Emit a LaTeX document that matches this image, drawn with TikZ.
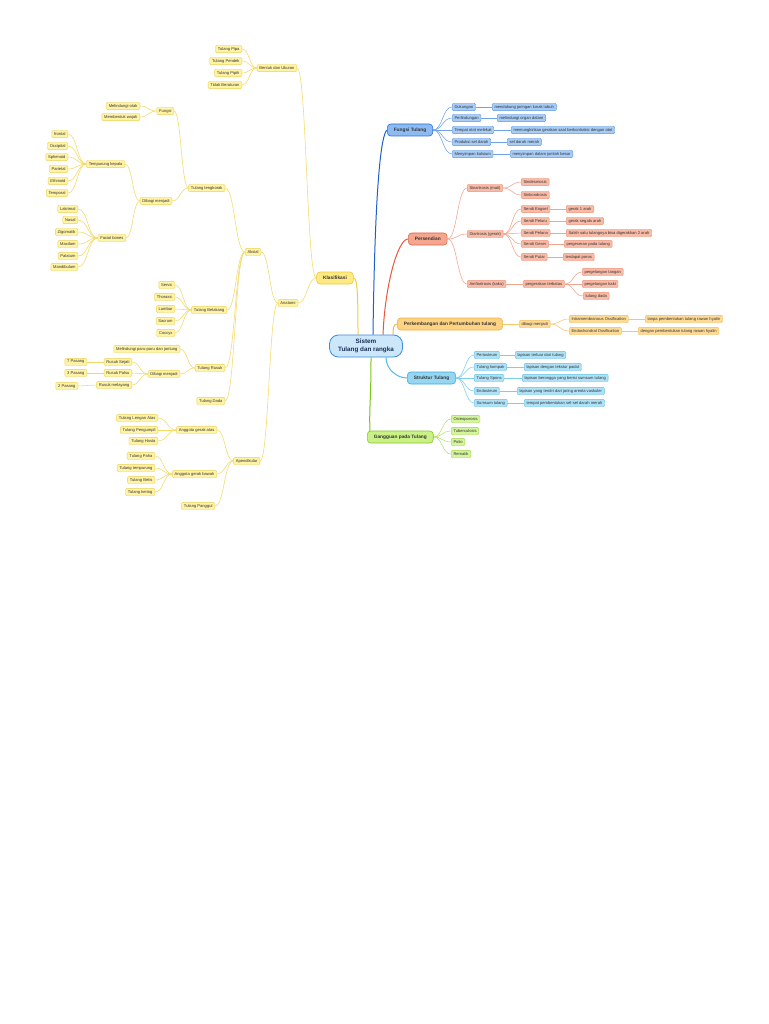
\documentclass[tikz,border=0pt]{standalone}
\usepackage{fontspec}
\setmainfont{Liberation Sans}
\usetikzlibrary{calc,backgrounds}
\definecolor{ylF}{HTML}{FFF3A6}\definecolor{ylD}{HTML}{EDD25A}\definecolor{ylL}{HTML}{F3D966}
\definecolor{ylMF}{HTML}{FFE983}\definecolor{ylMD}{HTML}{EFC93C}\definecolor{ylML}{HTML}{F0CF45}
\definecolor{buF}{HTML}{A8CCF5}\definecolor{buD}{HTML}{5D97E3}\definecolor{buL}{HTML}{6FA3E8}
\definecolor{buMF}{HTML}{8CBBF3}\definecolor{buMD}{HTML}{2F6FD0}\definecolor{buML}{HTML}{1F5FC8}
\definecolor{rdF}{HTML}{F8BBA8}\definecolor{rdD}{HTML}{EE9378}\definecolor{rdL}{HTML}{F2A48D}
\definecolor{rdMF}{HTML}{F4A68F}\definecolor{rdMD}{HTML}{E0654A}\definecolor{rdML}{HTML}{E8573A}
\definecolor{orF}{HTML}{FDDA96}\definecolor{orD}{HTML}{F6BE55}\definecolor{orL}{HTML}{F7C56A}
\definecolor{orMF}{HTML}{FDD283}\definecolor{orMD}{HTML}{F2B13F}\definecolor{orML}{HTML}{F5B948}
\definecolor{cyF}{HTML}{B0E2F7}\definecolor{cyD}{HTML}{5FC1EA}\definecolor{cyL}{HTML}{7DCDEF}
\definecolor{cyMF}{HTML}{95D6F2}\definecolor{cyMD}{HTML}{39AEE0}\definecolor{cyML}{HTML}{4DBBE8}
\definecolor{grF}{HTML}{D4F59E}\definecolor{grD}{HTML}{9ED645}\definecolor{grL}{HTML}{B3E36A}
\definecolor{grMF}{HTML}{C9F185}\definecolor{grMD}{HTML}{86C923}\definecolor{grML}{HTML}{7CC418}
\definecolor{cenF}{HTML}{CCE6FA}\definecolor{cenD}{HTML}{3C8DD8}\definecolor{cenT}{HTML}{1B2F55}
\tikzset{
  lk/.style={to path={let \p1=(\tikztostart), \p2=(\tikztotarget) in .. controls ({0.5*\x1+0.5*\x2},\y1) and ({0.5*\x1+0.5*\x2},\y2) .. (\tikztotarget)}},
  leaf/.style={rounded corners=1.2pt, inner xsep=2.3pt, inner ysep=0pt, minimum height=7.4pt, font=\fontsize{4.1}{4.6}\selectfont, text=black!80, line width=0.4pt},
  mainn/.style={rounded corners=3.5pt, inner xsep=6.5pt, inner ysep=0pt, minimum height=12pt, font=\fontsize{4.8}{5.5}\selectfont\bfseries, text=black!80, line width=0.6pt},
  yl/.style={leaf, fill=ylF, draw=ylD},
  bu/.style={leaf, fill=buF, draw=buD},
  rd/.style={leaf, fill=rdF, draw=rdD},
  or/.style={leaf, fill=orF, draw=orD},
  cy/.style={leaf, fill=cyF, draw=cyD},
  gr/.style={leaf, fill=grF, draw=grD},
  L/.style={anchor=east},
  R/.style={anchor=west},
  central/.style={rounded corners=9pt, minimum width=73pt, minimum height=22pt, inner sep=0pt, fill=cenF, draw=cenD, line width=0.8pt, align=center, font=\fontsize{6.3}{8}\selectfont\bfseries, text=cenT}
}
\begin{document}
\begin{tikzpicture}[x=1pt,y=-1pt]
\useasboundingbox (0,0) rectangle (768,1024);
% ---------------- central
\node[central] (sys) at (366,346) {Sistem\\Tulang dan rangka};
% ---------------- yellow (left)
\node[mainn, fill=ylMF, draw=ylMD] (kl) at (335,278) {Klasifikasi};
\node[yl,L] (bu) at (297,68) {Bentuk dan Ukuran};
\node[yl,L] (bu1) at (242,49) {Tulang Pipa};
\node[yl,L] (bu2) at (242,61) {Tulang Pendek};
\node[yl,L] (bu3) at (242,73) {Tulang Pipih};
\node[yl,L] (bu4) at (242,85) {Tidak Beraturan};
\node[yl,L] (an) at (298,303) {Anatomi};
\node[yl,L] (ak) at (261,252) {Aksial};
\node[yl,L] (tt) at (225,188) {Tulang tengkorak};
\node[yl,L] (fu) at (174,111) {Fungsi};
\node[yl,L] (fu1) at (140,106) {Melindungi otak};
\node[yl,L] (fu2) at (140,117) {Membentuk wajah};
\node[yl,L] (dma) at (172,201) {Dibagi menjadi};
\node[yl,L] (tk) at (125,164) {Tempurung kepala};
\node[yl,L] (tk1) at (68,134) {frontal};
\node[yl,L] (tk2) at (68,146) {Occipital};
\node[yl,L] (tk3) at (68,157) {Sphenoid};
\node[yl,L] (tk4) at (68,169) {Parietal};
\node[yl,L] (tk5) at (68,181) {Ethmoid};
\node[yl,L] (tk6) at (68,193) {Temporal};
\node[yl,L] (fb) at (126,238) {Facial bones};
\node[yl,L] (fb1) at (78,209) {Lakrimal};
\node[yl,L] (fb2) at (78,220) {Nasal};
\node[yl,L] (fb3) at (78,232) {Zigomatik};
\node[yl,L] (fb4) at (78,244) {Maxilam};
\node[yl,L] (fb5) at (78,256) {Palatum};
\node[yl,L] (fb6) at (78,267) {Mandibulam};
\node[yl,L] (tb) at (227,310) {Tulang Belakang};
\node[yl,L] (tb1) at (175,285) {Servic};
\node[yl,L] (tb2) at (175,297) {Thoraxic};
\node[yl,L] (tb3) at (175,309) {Lumbar};
\node[yl,L] (tb4) at (175,321) {Sacrum};
\node[yl,L] (tb5) at (175,333) {Coccyx};
\node[yl,L] (tr) at (225,368) {Tulang Rusuk};
\node[yl,L] (mp) at (180,349) {Melindungi paru-paru dan jantung};
\node[yl,L] (dmb) at (180,374) {Dibagi menjadi};
\node[yl,L] (rs) at (132,362) {Rusuk Sejati};
\node[yl,L] (rp) at (132,373) {Rusuk Palsu};
\node[yl,L] (rm) at (132,385) {Rusuk melayang};
\node[yl,L] (p7) at (87,362) {7 Pasang};
\node[yl,L] (p3) at (87,373) {3 Pasang};
\node[yl,L] (p2) at (78,386) {2 Pasang};
\node[yl,L] (td) at (225,401) {Tulang Dada};
\node[yl,L] (ap) at (260,461) {Apendikular};
\node[yl,L] (ga) at (217,430) {Anggota gerak atas};
\node[yl,L] (ga1) at (158,418) {Tulang Lengan Atas};
\node[yl,L] (ga2) at (158,430) {Tulang Pengumpil};
\node[yl,L] (ga3) at (158,441) {Tulang Hasta};
\node[yl,L] (gb) at (217,474) {Anggota gerak bawah};
\node[yl,L] (gb1) at (155,456) {Tulang Paha};
\node[yl,L] (gb2) at (155,468) {Tulang tempurung};
\node[yl,L] (gb3) at (155,480) {Tulang Betis};
\node[yl,L] (gb4) at (155,492) {Tulang kering};
\node[yl,L] (tpg) at (215,506) {Tulang Panggul};
% ---------------- blue
\node[mainn, fill=buMF, draw=buMD, R] (ft) at (387,130) {Fungsi Tulang};
\node[bu,R] (f1) at (452,107) {Dukungan};
\node[bu,R] (f2) at (452,118) {Perlindungan};
\node[bu,R] (f3) at (452,130) {Tempat otot melekat};
\node[bu,R] (f4) at (452,142) {Produksi sel darah};
\node[bu,R] (f5) at (452,154) {Menyimpan kalsium};
\node[bu,R] (g1) at (492,107) {mendukung jaringan lunak tubuh};
\node[bu,R] (g2) at (497,118) {melindungi organ dalam};
\node[bu,R] (g3) at (511,130) {memungkinkan gerakan saat berkontraksi dengan otot};
\node[bu,R] (g4) at (507,142) {sel darah merah};
\node[bu,R] (g5) at (510,154) {menyimpan dalam jumlah besar};
% ---------------- red
\node[mainn, fill=rdMF, draw=rdMD, R] (ps) at (408,239) {Persendian};
\node[rd,R] (sn) at (467,188) {Sinartrosis (mati)};
\node[rd,R] (sn1) at (521,182) {Sindesmosis};
\node[rd,R] (sn2) at (521,195) {Sinkondrosis};
\node[rd,R] (di) at (467,234) {Diartrosis (gerak)};
\node[rd,R] (d1) at (521,209) {Sendi Engsel};
\node[rd,R] (d2) at (521,221) {Sendi Peluru};
\node[rd,R] (d3) at (521,233) {Sendi Pelana};
\node[rd,R] (d4) at (521,244) {Sendi Geser};
\node[rd,R] (d5) at (521,257) {Sendi Putar};
\node[rd,R] (e1) at (566,209) {gerak 1 arah};
\node[rd,R] (e2) at (566,221) {gerak segala arah};
\node[rd,R] (e3) at (566,233) {Salah satu tulangnya bisa digerakkan 2 arah};
\node[rd,R] (e4) at (564,244) {pergeseran pada tulang};
\node[rd,R] (e5) at (563,257) {terdapat poros};
\node[rd,R] (af) at (467,284) {Amfiartrosis (kaku)};
\node[rd,R] (pt) at (523,284) {pergerakan terbatas};
\node[rd,R] (pt1) at (582,272) {pergelangan tangan};
\node[rd,R] (pt2) at (582,284) {pergelangan kaki};
\node[rd,R] (pt3) at (583,296) {tulang dada};
% ---------------- orange
\node[mainn, fill=orMF, draw=orMD, R] (pk) at (397,324) {Perkembangan dan Pertumbuhan tulang};
\node[or,R] (dmc) at (519,324) {dibagi menjadi};
\node[or,R] (io) at (569,319) {Intramembranous Ossification};
\node[or,R] (ec) at (569,331) {Endochondral Ossification};
\node[or,R] (io1) at (645,319) {tanpa pembentukan tulang rawan hyalin};
\node[or,R] (ec1) at (638,331) {dengan pembentukan tulang rawan hyalin};
% ---------------- cyan
\node[mainn, fill=cyMF, draw=cyMD, R] (st) at (407,378) {Struktur Tulang};
\node[cy,R] (s1) at (474,355) {Periosteum};
\node[cy,R] (s2) at (474,367) {Tulang kompak};
\node[cy,R] (s3) at (474,378) {Tulang Spons};
\node[cy,R] (s4) at (474,391) {Endosteum};
\node[cy,R] (s5) at (474,403) {Sumsum tulang};
\node[cy,R] (t1) at (515,355) {lapisan terluar dari tulang};
\node[cy,R] (t2) at (524,367) {lapisan dengan tekstur padat};
\node[cy,R] (t3) at (522,378) {lapisan berongga yang berisi sumsum tulang};
\node[cy,R] (t4) at (517,391) {lapisan yang terdiri dari jaring areola vaskuler};
\node[cy,R] (t5) at (524,403) {tempat pembentukan sel-sel darah merah};
% ---------------- green
\node[mainn, fill=grMF, draw=grMD, R] (gg) at (367,437) {Gangguan pada Tulang};
\node[gr,R] (h1) at (451,419) {Osteoporosis};
\node[gr,R] (h2) at (451,431) {Tuberculosis};
\node[gr,R] (h3) at (451,442) {Polio};
\node[gr,R] (h4) at (451,454) {Rematik};
% ---------------- connectors
\begin{scope}[on background layer]
\fill[white] (0,0) rectangle (768,1024);
% main branches
\draw[ylML, line width=1pt] ([xshift=-8pt]sys.north) .. controls +(0,-35) and +(4,0) .. (kl.east);
\draw[buML, line width=1pt] ([xshift=7pt]sys.north) .. controls +(2,-150) and +(-6,5) .. (ft.west);
\draw[rdML, line width=1pt] ([xshift=17pt]sys.north) .. controls +(2,-50) and +(-10,0) .. (ps.west);
\draw[orML, line width=1pt] ([xshift=27pt]sys.north) .. controls +(0,-7) and +(-3,0) .. (pk.west);
\draw[cyML, line width=1pt] ([xshift=20pt]sys.south) .. controls +(0,12) and +(-10,0) .. (st.west);
\draw[grML, line width=1pt] ([xshift=5pt]sys.south) .. controls +(0,45) and +(-1,-25) .. ([xshift=3pt,yshift=-2pt]gg.north west);
% yellow
\begin{scope}[draw=ylL, line width=0.55pt, lk]
\draw (kl.west) to (bu.east); \draw (kl.west) to (an.east);
\foreach \v in {bu1,bu2,bu3,bu4} \draw (bu.west) to (\v.east);
\draw (an.west) to (ak.east); \draw (an.west) to (ap.east);
\foreach \v in {tt,tb,tr,td} \draw (ak.west) to (\v.east);
\draw (tt.west) to (fu.east); \draw (tt.west) to (dma.east);
\draw (fu.west) to (fu1.east); \draw (fu.west) to (fu2.east);
\draw (dma.west) to (tk.east); \draw (dma.west) to (fb.east);
\foreach \v in {tk1,tk2,tk3,tk4,tk5,tk6} \draw (tk.west) to (\v.east);
\foreach \v in {fb1,fb2,fb3,fb4,fb5,fb6} \draw (fb.west) to (\v.east);
\foreach \v in {tb1,tb2,tb3,tb4,tb5} \draw (tb.west) to (\v.east);
\draw (tr.west) to (mp.east); \draw (tr.west) to (dmb.east);
\foreach \v in {rs,rp,rm} \draw (dmb.west) to (\v.east);
\draw (rs.west) to (p7.east); \draw (rp.west) to (p3.east); \draw (rm.west) to (p2.east);
\foreach \v in {ga,gb,tpg} \draw (ap.west) to (\v.east);
\foreach \v in {ga1,ga2,ga3} \draw (ga.west) to (\v.east);
\foreach \v in {gb1,gb2,gb3,gb4} \draw (gb.west) to (\v.east);
\end{scope}
% blue
\begin{scope}[draw=buL, line width=0.55pt, lk]
\foreach \v in {f1,f2,f3,f4,f5} \draw (ft.east) to (\v.west);
\draw (f1.east) to (g1.west); \draw (f2.east) to (g2.west); \draw (f3.east) to (g3.west);
\draw (f4.east) to (g4.west); \draw (f5.east) to (g5.west);
\end{scope}
% red
\begin{scope}[draw=rdL, line width=0.55pt, lk]
\foreach \v in {sn,di,af} \draw (ps.east) to (\v.west);
\draw (sn.east) to (sn1.west); \draw (sn.east) to (sn2.west);
\foreach \v in {d1,d2,d3,d4,d5} \draw (di.east) to (\v.west);
\draw (d1.east) to (e1.west); \draw (d2.east) to (e2.west); \draw (d3.east) to (e3.west);
\draw (d4.east) to (e4.west); \draw (d5.east) to (e5.west);
\draw (af.east) to (pt.west);
\foreach \v in {pt1,pt2,pt3} \draw (pt.east) to (\v.west);
\end{scope}
% orange
\begin{scope}[draw=orL, line width=0.55pt, lk]
\draw (pk.east) to (dmc.west);
\draw (dmc.east) to (io.west); \draw (dmc.east) to (ec.west);
\draw (io.east) to (io1.west); \draw (ec.east) to (ec1.west);
\end{scope}
% cyan
\begin{scope}[draw=cyL, line width=0.55pt, lk]
\foreach \v in {s1,s2,s3,s4,s5} \draw (st.east) to (\v.west);
\draw (s1.east) to (t1.west); \draw (s2.east) to (t2.west); \draw (s3.east) to (t3.west);
\draw (s4.east) to (t4.west); \draw (s5.east) to (t5.west);
\end{scope}
% green
\begin{scope}[draw=grL, line width=0.55pt, lk]
\foreach \v in {h1,h2,h3,h4} \draw (gg.east) to (\v.west);
\end{scope}
\end{scope}
\end{tikzpicture}
\end{document}
